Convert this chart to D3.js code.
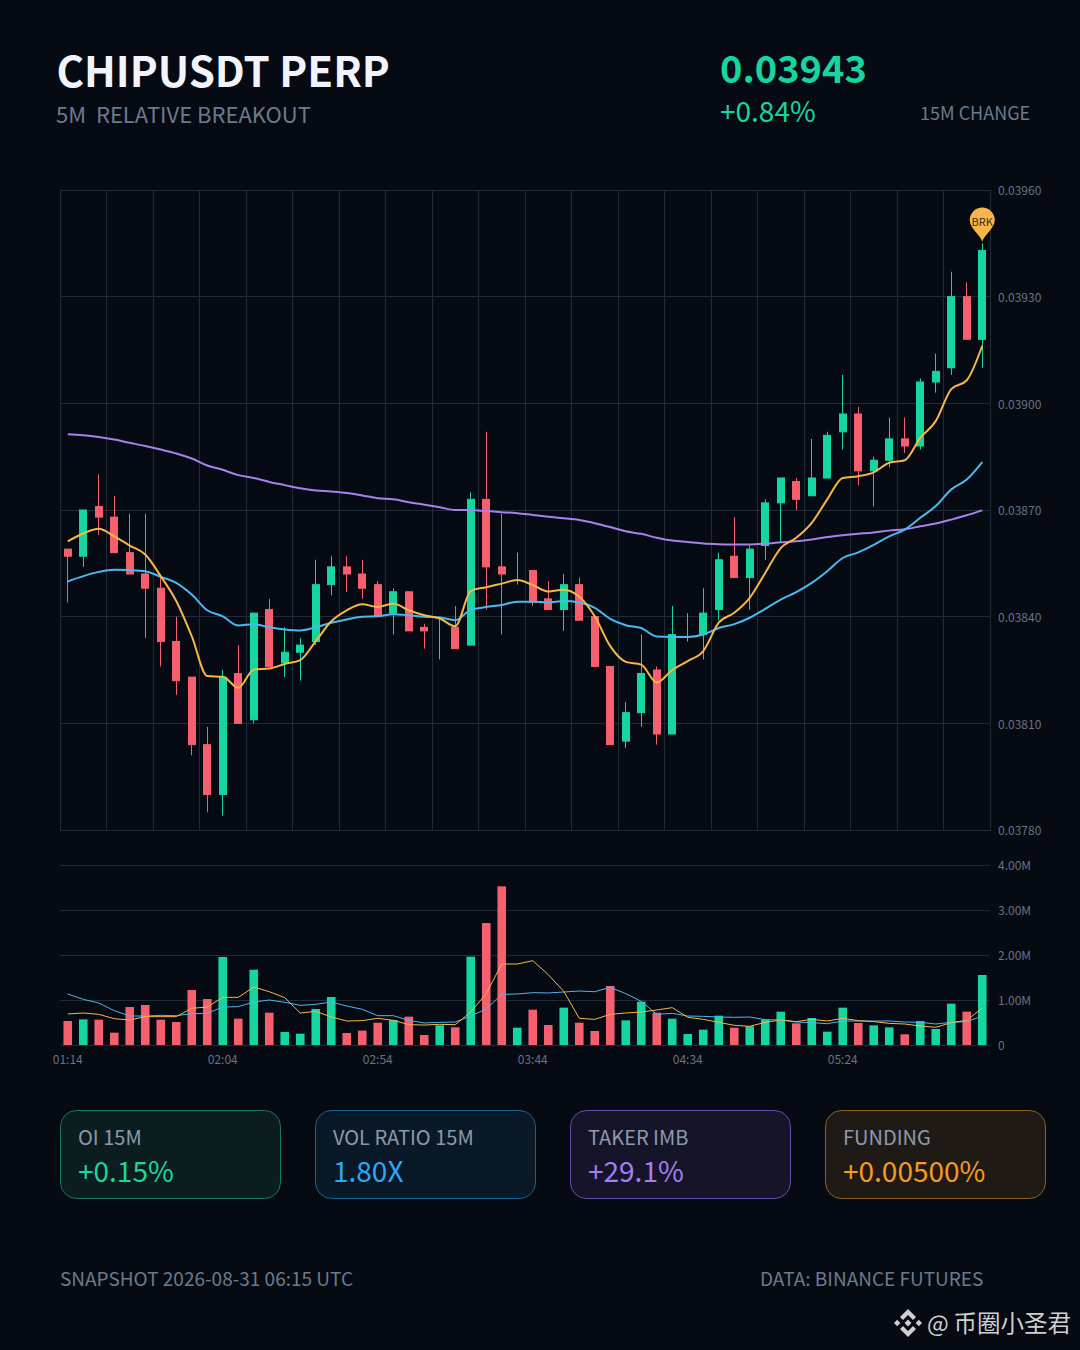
<!DOCTYPE html>
<html lang="en">
<head>
<meta charset="utf-8">
<title>CHIPUSDT PERP</title>
<script src="https://cdn.jsdelivr.net/npm/d3@7/dist/d3.min.js"></script>
<style>
  html, body { margin: 0; padding: 0; background: #060a12; }
  svg { display: block; }
  svg text { white-space: pre; font-family: "Noto Sans CJK SC", "Noto Sans", sans-serif; }
  .domain { display: none; }
</style>
</head>
<body>
<svg width="1080" height="1350"></svg>
<script>
const categories = ['01:14','01:19','01:24','01:29','01:34','01:39','01:44','01:49','01:54','01:59',
  '02:04','02:09','02:14','02:19','02:24','02:29','02:34','02:39','02:44','02:49',
  '02:54','02:59','03:04','03:09','03:14','03:19','03:24','03:29','03:34','03:39',
  '03:44','03:49','03:54','03:59','04:04','04:09','04:14','04:19','04:24','04:29',
  '04:34','04:39','04:44','04:49','04:54','04:59','05:04','05:09','05:14','05:19',
  '05:24','05:29','05:34','05:39','05:44','05:49','05:54','05:59','06:04','06:09'];

const opens = [.03859,.03857,.03871,.03868,.03858,.03852,.03848,.03833,.03823,.03804,
  .03790,.03824,.03811,.03842,.03827,.03830,.03833,.03849,.03854,.03852,
  .03849,.03841,.03847,.03837,.03836,.03837,.03832,.03873,.03854,.03853,
  .03853,.03845,.03842,.03849,.03840,.03826,.03805,.03813,.03825,.03807,
  .03835,.03835,.03842,.03857,.03851,.03860,.03872,.03878,.03874,.03879,
  .03892,.03897,.03881,.03884,.03890,.03888,.03906,.03910,.03930,.03918];
const closes = [.03857,.03870,.03868,.03858,.03852,.03848,.03833,.03822,.03804,.03790,
  .03823,.03810,.03841,.03826,.03830,.03832,.03849,.03854,.03852,.03848,
  .03840,.03847,.03836,.03836,.03836,.03831,.03873,.03854,.03852,.03853,
  .03844,.03842,.03849,.03839,.03826,.03804,.03813,.03824,.03807,.03835,
  .03835,.03841,.03856,.03851,.03859,.03872,.03879,.03873,.03879,.03891,
  .03897,.03881,.03884,.03890,.03888,.03906,.03909,.03930,.03918,.03943];
const highs = [.03859,.03870,.03880,.03874,.03869,.03869,.03851,.03840,.03823,.03809,
  .03825,.03832,.03841,.03845,.03837,.03834,.03856,.03857,.03857,.03856,
  .03850,.03848,.03847,.03838,.03840,.03843,.03875,.03892,.03869,.03858,
  .03853,.03850,.03852,.03851,.03840,.03826,.03816,.03835,.03826,.03843,
  .03841,.03848,.03858,.03868,.03860,.03873,.03879,.03879,.03890,.03892,
  .03908,.03899,.03885,.03896,.03896,.03907,.03914,.03937,.03934,.03945];
const lows = [.03844,.03854,.03863,.03858,.03852,.03834,.03826,.03818,.03801,.03785,
  .03784,.03810,.03810,.03826,.03823,.03822,.03832,.03846,.03847,.03845,
  .03840,.03835,.03836,.03831,.03828,.03831,.03832,.03842,.03835,.03849,
  .03843,.03842,.03836,.03839,.03826,.03804,.03803,.03809,.03804,.03807,
  .03833,.03828,.03839,.03851,.03842,.03856,.03861,.03870,.03874,.03879,
  .03887,.03877,.03871,.03882,.03886,.03887,.03903,.03908,.03918,.03910];

const maFast = [.038612,.038634,.038647,.038626,.038600,.038575,.038514,.038444,.038345,.038233,
  .038231,.038200,.038251,.038254,.038267,.038278,.038331,.038387,.038418,.038435,
  .038427,.038437,.038418,.038404,.038395,.038373,.038472,.038483,.038493,.038503,
  .038489,.038471,.038476,.038456,.038401,.038317,.038273,.038265,.038215,.038250,
  .038275,.038303,.038383,.038411,.038453,.038523,.038593,.038622,.038664,.038730,
  .038790,.038795,.038806,.038833,.038840,.038903,.038950,.039040,.039065,.039162];
const maMid = [.038499,.038514,.038526,.038532,.038531,.038528,.038512,.038495,.038462,.038418,
  .038401,.038375,.038379,.038370,.038364,.038361,.038370,.038383,.038392,.038400,
  .038401,.038407,.038404,.038400,.038398,.038390,.038419,.038427,.038433,.038442,
  .038442,.038440,.038444,.038440,.038425,.038394,.038376,.038368,.038344,.038343,
  .038343,.038350,.038368,.038379,.038397,.038422,.038448,.038469,.038495,.038528,
  .038565,.038581,.038602,.038626,.038645,.038678,.038711,.038758,.038786,.038835];
const maSlow = [.038913,.038910,.038905,.038898,.038889,.038880,.038870,.038859,.038845,.038825,
  .038813,.038798,.038790,.038779,.038770,.038761,.038755,.038752,.038748,.038741,
  .038733,.038730,.038722,.038715,.038708,.038700,.038700,.038697,.038694,.038691,
  .038686,.038681,.038677,.038672,.038663,.038652,.038640,.038633,.038622,.038614,
  .038610,.038606,.038604,.038603,.038603,.038605,.038609,.038612,.038617,.038624,
  .038629,.038633,.038637,.038642,.038646,.038654,.038662,.038673,.038685,.038699];

const volumes = [.533,.570,.563,.274,.844,.889,.563,.511,1.222,1.022,
  1.956,.585,1.674,.719,.289,.252,.800,1.067,.267,.319,
  .496,.556,.630,.222,.437,.393,1.963,2.711,3.526,.385,
  .785,.444,.830,.496,.311,1.311,.548,.963,.719,.585,
  .244,.341,.652,.385,.415,.563,.741,.481,.600,.296,
  .830,.489,.437,.393,.237,.533,.356,.919,.741,1.556];
const volFast = [.689,.711,.681,.585,.556,.630,.630,.630,.815,.844,
  1.059,1.059,1.289,1.185,1.052,.711,.748,.622,.533,.541,
  .593,.548,.452,.444,.459,.452,.733,1.141,1.800,1.800,
  1.874,1.563,1.193,.593,.570,.681,.711,.733,.778,.830,
  .615,.570,.504,.437,.415,.504,.556,.519,.570,.533,
  .593,.541,.519,.481,.467,.422,.393,.496,.548,.822];
const volSlow = [1.133,1.015,.933,.763,.644,.644,.659,.652,.696,.704,
  .844,.852,.956,1.000,.948,.881,.904,.956,.867,.793,
  .652,.652,.548,.489,.504,.511,.644,.800,1.126,1.133,
  1.163,1.156,1.178,1.200,1.185,1.281,1.141,.970,.681,.704,
  .644,.637,.622,.615,.622,.563,.556,.511,.496,.474,
  .533,.533,.533,.533,.511,.504,.467,.504,.519,.644];

const priceTicks = [.03780,.03810,.03840,.03870,.03900,.03930,.03960];
const volTicks = [0,1,2,3,4];
const volTickLabels = ['0','1.00M','2.00M','3.00M','4.00M'];

const cards = [
  {label:'OI 15M', value:'+0.15%', fill:'#0b1d1e', stroke:'#137a5c', color:'#1ad69e'},
  {label:'VOL RATIO 15M', value:'1.80X', fill:'#0a1927', stroke:'#1c6292', color:'#2ea6f5'},
  {label:'TAKER IMB', value:'+29.1%', fill:'#151428', stroke:'#664fae', color:'#a67cf5'},
  {label:'FUNDING', value:'+0.00500%', fill:'#201a16', stroke:'#8f611d', color:'#f79a1e'}
];

const GREEN = '#16d6a0', RED = '#f55f6e', ORANGE = '#f7b648', BLUE = '#4cb8f0', PURPLE = '#a981ee';
const GRID = '#202b3a', TICK = '#687384';

const svg = d3.select('svg');
svg.append('rect').attr('width', 1080).attr('height', 1350).attr('fill', '#060a12');

// header
function label(x, y, txt, size, color, weight) {
  return svg.append('text').attr('x', x).attr('y', y).text(txt)
    .attr('font-size', size).attr('fill', color).attr('font-weight', weight || 400);
}
label(56.5, 87, 'CHIPUSDT PERP', 42, '#f1f5fb', 700);
label(56, 123, '5M  RELATIVE BREAKOUT', 22, '#6c7a8e');
label(720, 83, '0.03943', 38, GREEN, 700);
label(720, 122, '+0.84%', 28, GREEN);
label(920, 120, '15M CHANGE', 18, '#6c7a8e');

// scales
const x = d3.scaleBand().domain(categories).range([60, 990]);
const y = d3.scaleLinear().domain([.03780, .03960]).range([830, 190]);
const yVol = d3.scaleLinear().domain([0, 4]).range([1045, 865]);
const cx = i => x(categories[i]) + x.bandwidth() / 2;
const crisp = v => Math.floor(v) + .5;

// price grid
const priceAxis = d3.axisRight(y).tickValues(priceTicks).tickFormat(d => d.toFixed(5))
  .tickSize(0).tickPadding(8);
const gp = svg.append('g').attr('transform', 'translate(990,1)').call(priceAxis);
gp.selectAll('text').attr('font-size', 12).attr('fill', TICK);
svg.append('g').selectAll('line').data(priceTicks).join('line')
  .attr('x1', 60).attr('x2', 991).attr('y1', d => crisp(y(d))).attr('y2', d => crisp(y(d)))
  .attr('stroke', GRID);
const vertical = categories.filter((d, i) => i % 3 === 0).map(d => x(d)).concat(x.range()[1]);
svg.append('g').selectAll('line').data(vertical).join('line')
  .attr('x1', crisp).attr('x2', crisp).attr('y1', y.range()[1]).attr('y2', y.range()[0] + 1)
  .attr('stroke', GRID);

// candles
const idx = d3.range(categories.length);
const col = i => closes[i] >= opens[i] ? GREEN : RED;
svg.append('g').selectAll('line').data(idx).join('line')
  .attr('x1', i => crisp(cx(i))).attr('x2', i => crisp(cx(i)))
  .attr('y1', i => y(highs[i])).attr('y2', i => y(lows[i]))
  .attr('stroke', col).attr('stroke-width', 1);
svg.append('g').selectAll('rect').data(idx).join('rect')
  .attr('x', i => Math.round(cx(i)) - 3.5)
  .attr('width', 7)
  .attr('y', i => y(Math.max(opens[i], closes[i])))
  .attr('height', i => Math.abs(y(opens[i]) - y(closes[i])))
  .attr('fill', col).attr('stroke', col).attr('stroke-width', 1);

// moving averages
const priceLine = d3.line().x((d, i) => cx(i)).y(d => y(d)).curve(d3.curveMonotoneX);
[[maSlow, PURPLE], [maMid, BLUE], [maFast, ORANGE]].forEach(([s, c]) => {
  svg.append('path').attr('d', priceLine(s)).attr('fill', 'none')
    .attr('stroke', c).attr('stroke-width', 2);
});

// breakout pin on the last candle
const pin = svg.append('g')
  .attr('transform', `translate(${cx(59)},${y(highs[59]) - 1.6})`);
pin.append('path').attr('d', 'M0,0 C-2,-7 -12.5,-13 -12.5,-21.7 A12.5,12.5 0 1 1 12.5,-21.7 C12.5,-13 2,-7 0,0 Z')
  .attr('fill', ORANGE);
pin.append('text').attr('y', -15.7).attr('text-anchor', 'middle').text('BRK')
  .attr('font-size', 11).attr('fill', '#3a2c10');

// volume panel
svg.append('g').selectAll('line').data(volTicks).join('line')
  .attr('x1', 60).attr('x2', 990).attr('y1', d => crisp(yVol(d))).attr('y2', d => crisp(yVol(d)))
  .attr('stroke', GRID);
const volAxis = d3.axisRight(yVol).tickValues(volTicks).tickFormat((d, i) => volTickLabels[i])
  .tickSize(0).tickPadding(8);
const gv = svg.append('g').attr('transform', 'translate(990,1)').call(volAxis);
gv.selectAll('text').attr('font-size', 12).attr('fill', TICK);

svg.append('g').selectAll('rect').data(idx).join('rect')
  .attr('x', i => cx(i) - 4.3)
  .attr('width', 8.6)
  .attr('y', i => yVol(volumes[i]))
  .attr('height', i => yVol(0) - yVol(volumes[i]))
  .attr('fill', col);

const volLine = d3.line().x((d, i) => cx(i)).y(d => yVol(d));
[[volSlow, BLUE], [volFast, ORANGE]].forEach(([s, c]) => {
  svg.append('path').attr('d', volLine(s)).attr('fill', 'none')
    .attr('stroke', c).attr('stroke-width', 1);
});

const timeAxis = d3.axisBottom(x).tickValues(categories.filter((d, i) => i % 10 === 0))
  .tickSize(0).tickPadding(10);
const gt = svg.append('g').attr('transform', 'translate(0,1045.5)').call(timeAxis);
gt.selectAll('text').attr('font-size', 12).attr('fill', TICK);

// stat cards
const cardX = d3.scaleOrdinal().domain(cards.map(d => d.label)).range([60.5, 315.5, 570.5, 825.5]);
const card = svg.append('g').selectAll('g').data(cards).join('g')
  .attr('transform', d => `translate(${cardX(d.label)},1110.5)`);
card.append('rect').attr('width', 220).attr('height', 88).attr('rx', 16)
  .attr('fill', d => d.fill).attr('stroke', d => d.stroke);
card.append('text').attr('x', 17.5).attr('y', 34.5).text(d => d.label)
  .attr('font-size', 20).attr('fill', '#8d9aad');
card.append('text').attr('x', 17.5).attr('y', 71).text(d => d.value)
  .attr('font-size', 28).attr('fill', d => d.color);

// footer
label(60, 1286, 'SNAPSHOT 2026-08-31 06:15 UTC', 19, '#6c7a8e');
label(760, 1286, 'DATA: BINANCE FUTURES', 19, '#6c7a8e');

// watermark
const logo = svg.append('g').attr('transform', 'translate(908,1323)').attr('fill', '#cfcfcf');
logo.append('path').attr('d', 'M0,-14 L8,-6 L5,-3 L0,-8 L-5,-3 L-8,-6 Z');
logo.append('path').attr('d', 'M0,14 L8,6 L5,3 L0,8 L-5,3 L-8,6 Z');
logo.append('path').attr('d', 'M0,-3.5 L3.5,0 L0,3.5 L-3.5,0 Z');
logo.append('path').attr('d', 'M-14,0 L-10.8,-3.2 L-7.6,0 L-10.8,3.2 Z');
logo.append('path').attr('d', 'M14,0 L10.8,-3.2 L7.6,0 L10.8,3.2 Z');
label(927, 1332, '@', 23, '#cfcfcf');
label(953.5, 1332, '币圈小圣君', 23.5, '#cfcfcf');
</script>
</body>
</html>
